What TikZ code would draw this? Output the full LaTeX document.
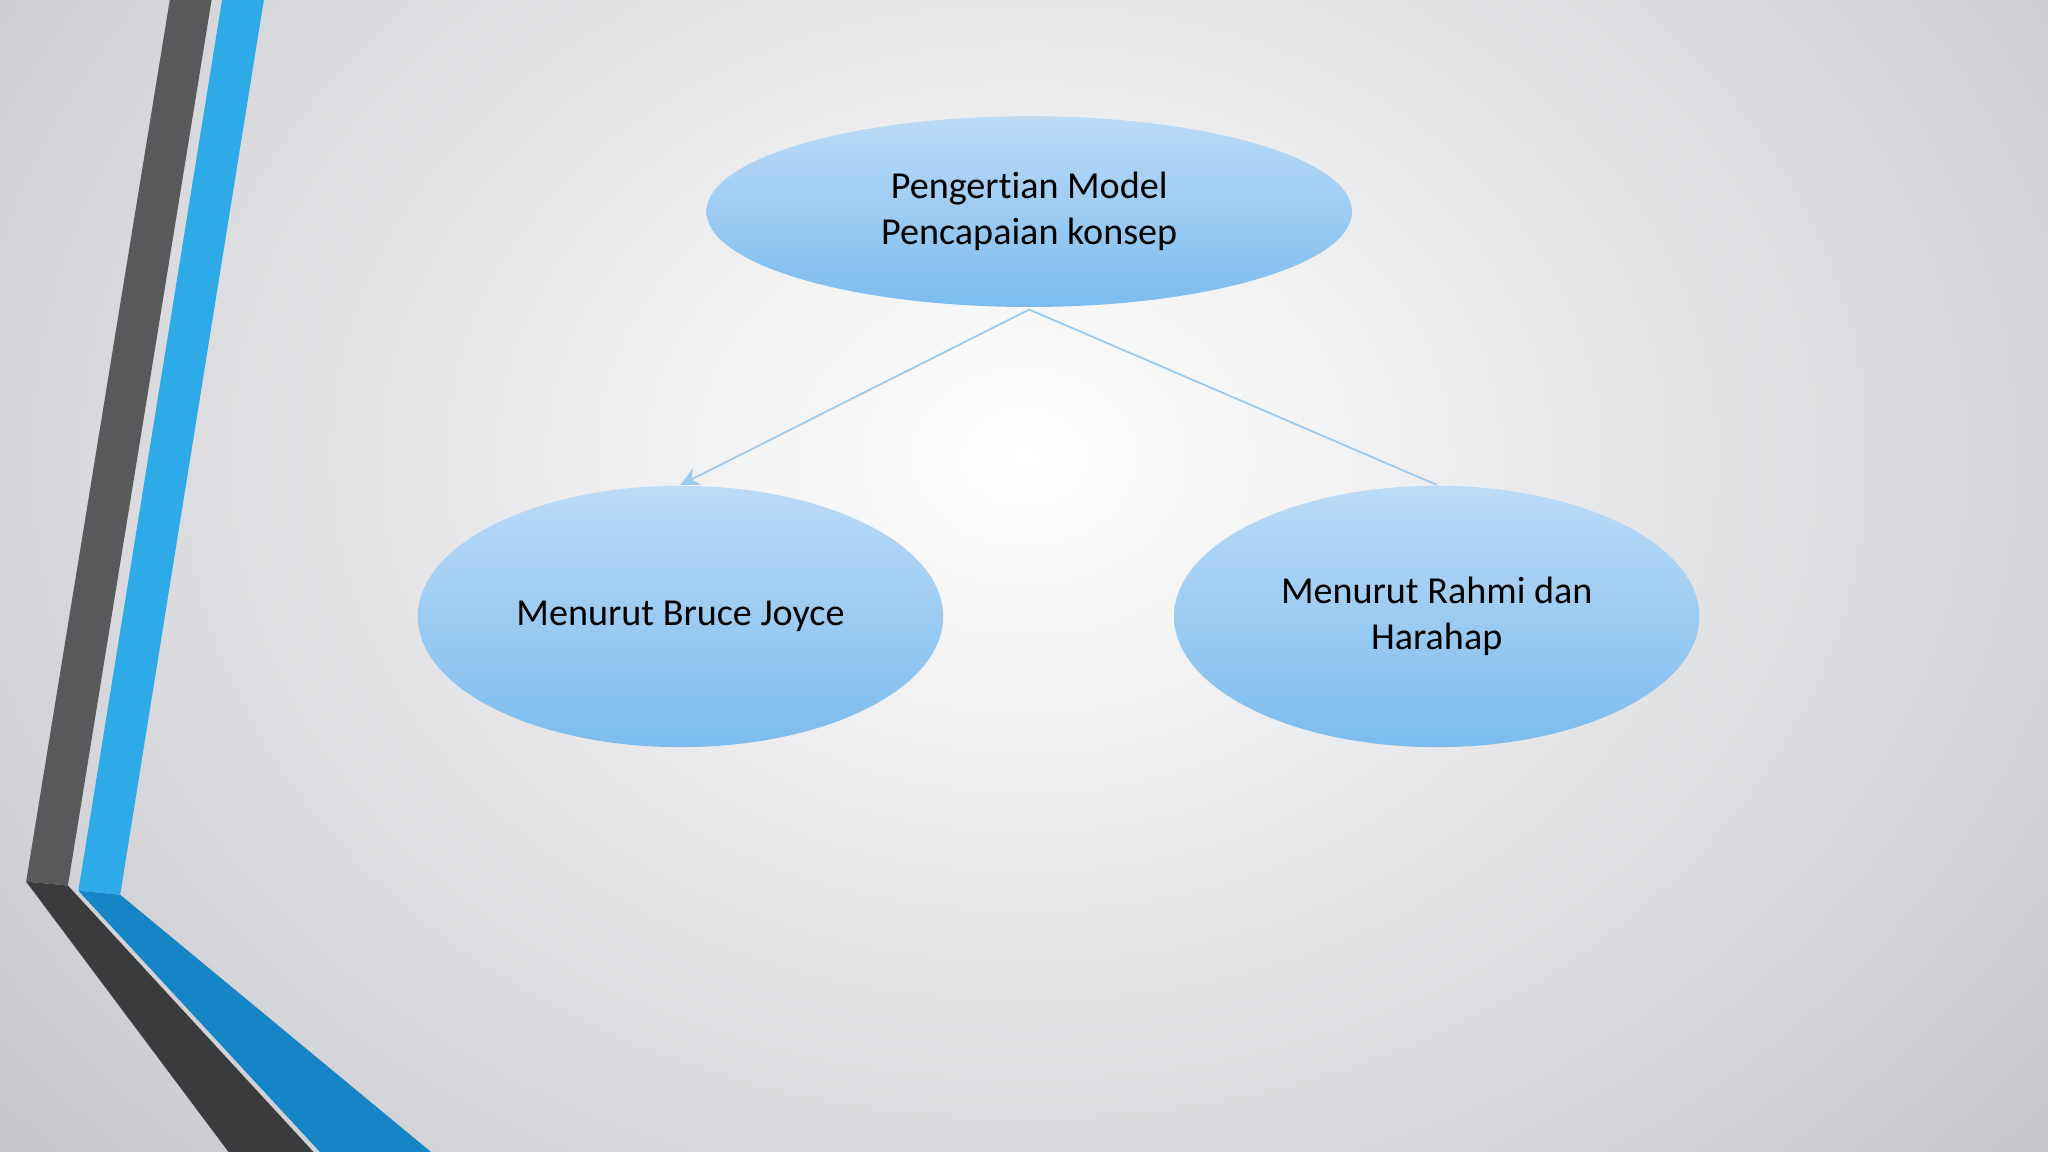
\documentclass[tikz,border=0pt]{standalone}
\usepackage{fontspec}
\setmainfont{Carlito}[Ligatures=NoCommon]
\usetikzlibrary{shapes.geometric,arrows.meta}
\definecolor{stripegrey}{HTML}{58595B}
\definecolor{stripedark}{HTML}{3A3B3D}
\definecolor{stripeblue}{HTML}{2EAAE8}
\definecolor{stripedeep}{HTML}{1585C5}
\definecolor{bubbletop}{HTML}{BCDBF6}
\definecolor{bubblebot}{HTML}{7CBCEE}
\definecolor{linkblue}{HTML}{9CCBF0}
\definecolor{bgedge}{HTML}{C4C5CA}
\tikzset{font=\fontsize{8.3pt}{10pt}\selectfont}
\tikzstyle{bubble}=[ellipse,top color=bubbletop,bottom color=bubblebot,draw=none,align=center,inner sep=0pt]
\tikzstyle{link}=[draw=linkblue,line width=0.4pt]
\begin{document}
\begin{tikzpicture}[x=0.01cm,y=-0.01cm]
	\useasboundingbox (0,0) rectangle (1568,882);
	\shade[inner color=white,outer color=bgedge] (-300,-500) rectangle (1868,1200);
	% stripes
	\fill[stripegrey] (130,0) -- (162,0) -- (52,678) -- (20,675) -- cycle;
	\fill[stripedark] (20,675) -- (52,678) -- (240,882) -- (175,882) -- cycle;
	\fill[stripeblue] (170,0) -- (202,0) -- (92,685) -- (60,682) -- cycle;
	\fill[stripedeep] (60,682) -- (92,685) -- (330,882) -- (245,882) -- cycle;
	% bubbles
	\node [bubble,minimum width=4.94cm,minimum height=1.46cm] (top) at (788,162) {Pengertian Model\\Pencapaian konsep};
	\node [bubble,minimum width=4.02cm,minimum height=2cm] (left) at (521,472) {Menurut Bruce Joyce};
	\node [bubble,minimum width=4.02cm,minimum height=2cm] (right) at (1100,472) {Menurut Rahmi dan\\Harahap};
	\coordinate (fork) at (788,237);
	\draw[link,-{Stealth[length=4pt,width=4pt]}] (fork) to (left.north);
	\draw[link] (fork) to (right.north);
\end{tikzpicture}
\end{document}
